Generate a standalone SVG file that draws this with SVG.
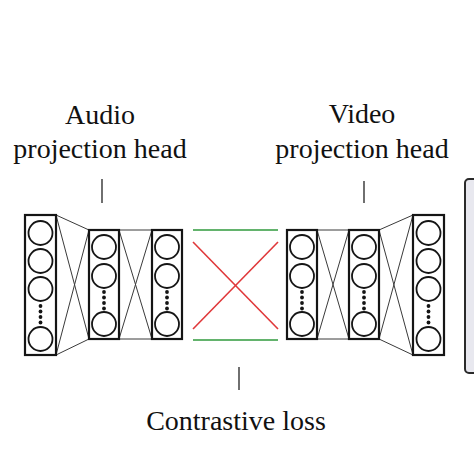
<svg xmlns="http://www.w3.org/2000/svg" width="474" height="474" viewBox="0 0 474 474">
<style>
.box{fill:none;stroke:#151515;stroke-width:2.2}
.n{fill:none;stroke:#151515;stroke-width:1.8}
.d{fill:#151515}
.c{stroke:#3a3a3a;stroke-width:1;fill:none}
.g{stroke:#2f9a3c;stroke-width:1.6}
.r{stroke:#e0383a;stroke-width:1.6}
.t{font-family:"Liberation Serif","Times New Roman",serif;font-size:28px;fill:#111;text-anchor:middle}
.tick{stroke:#222;stroke-width:1.3}
</style>
<rect width="474" height="474" fill="#fff"/>
<g id="labels">
<text class="t" x="100" y="124">Audio</text>
<text class="t" x="100" y="158">projection head</text>
<text class="t" x="362" y="123">Video</text>
<text class="t" x="362" y="158">projection head</text>
<text class="t" x="236" y="430">Contrastive loss</text>
<line class="tick" x1="102" y1="179" x2="102" y2="203"/>
<line class="tick" x1="364" y1="181" x2="364" y2="203"/>
<line class="tick" x1="239" y1="367" x2="239" y2="390"/>
</g>
<g id="connectors">
<line class="c" x1="56" y1="215" x2="89" y2="230"/>
<line class="c" x1="56" y1="355" x2="89" y2="339"/>
<line class="c" x1="56" y1="215" x2="89" y2="339"/>
<line class="c" x1="56" y1="355" x2="89" y2="230"/>
<line class="c" x1="119" y1="230" x2="152" y2="230"/>
<line class="c" x1="119" y1="339" x2="152" y2="339"/>
<line class="c" x1="119" y1="230" x2="152" y2="339"/>
<line class="c" x1="119" y1="339" x2="152" y2="230"/>
<line class="c" x1="317" y1="230" x2="349" y2="230"/>
<line class="c" x1="317" y1="339" x2="349" y2="339"/>
<line class="c" x1="317" y1="230" x2="349" y2="339"/>
<line class="c" x1="317" y1="339" x2="349" y2="230"/>
<line class="c" x1="379" y1="230" x2="413" y2="215"/>
<line class="c" x1="379" y1="339" x2="413" y2="355"/>
<line class="c" x1="379" y1="230" x2="413" y2="355"/>
<line class="c" x1="379" y1="339" x2="413" y2="215"/>
<line class="g" x1="193" y1="230" x2="278" y2="230"/>
<line class="g" x1="193" y1="340" x2="278" y2="340"/>
<line class="r" x1="193" y1="242" x2="278" y2="329"/>
<line class="r" x1="193" y1="329" x2="278" y2="242"/>
</g>
<g id="audio-layer1">
<rect class="box" x="25" y="215" width="31" height="140"/>
<circle class="n" cx="40.5" cy="233" r="12"/>
<circle class="n" cx="40.5" cy="261" r="12"/>
<circle class="n" cx="40.5" cy="289" r="12"/>
<circle class="n" cx="40.5" cy="339" r="12"/>
<circle class="d" cx="40.5" cy="306" r="1.9"/>
<circle class="d" cx="40.5" cy="311.5" r="1.9"/>
<circle class="d" cx="40.5" cy="317" r="1.9"/>
<circle class="d" cx="40.5" cy="322.5" r="1.9"/>
</g>
<g id="audio-layer2">
<rect class="box" x="89" y="230" width="30" height="109"/>
<circle class="n" cx="104" cy="247" r="12"/>
<circle class="n" cx="104" cy="276" r="12"/>
<circle class="n" cx="104" cy="324" r="12"/>
<circle class="d" cx="104" cy="292" r="1.9"/>
<circle class="d" cx="104" cy="297.5" r="1.9"/>
<circle class="d" cx="104" cy="303" r="1.9"/>
<circle class="d" cx="104" cy="308.5" r="1.9"/>
</g>
<g id="audio-layer3">
<rect class="box" x="152" y="230" width="30" height="109"/>
<circle class="n" cx="167" cy="247" r="12"/>
<circle class="n" cx="167" cy="276" r="12"/>
<circle class="n" cx="167" cy="324" r="12"/>
<circle class="d" cx="167" cy="292" r="1.9"/>
<circle class="d" cx="167" cy="297.5" r="1.9"/>
<circle class="d" cx="167" cy="303" r="1.9"/>
<circle class="d" cx="167" cy="308.5" r="1.9"/>
</g>
<g id="video-layer1">
<rect class="box" x="287" y="230" width="30" height="109"/>
<circle class="n" cx="302" cy="247" r="12"/>
<circle class="n" cx="302" cy="276" r="12"/>
<circle class="n" cx="302" cy="324" r="12"/>
<circle class="d" cx="302" cy="292" r="1.9"/>
<circle class="d" cx="302" cy="297.5" r="1.9"/>
<circle class="d" cx="302" cy="303" r="1.9"/>
<circle class="d" cx="302" cy="308.5" r="1.9"/>
</g>
<g id="video-layer2">
<rect class="box" x="349" y="230" width="30" height="109"/>
<circle class="n" cx="364" cy="247" r="12"/>
<circle class="n" cx="364" cy="276" r="12"/>
<circle class="n" cx="364" cy="324" r="12"/>
<circle class="d" cx="364" cy="292" r="1.9"/>
<circle class="d" cx="364" cy="297.5" r="1.9"/>
<circle class="d" cx="364" cy="303" r="1.9"/>
<circle class="d" cx="364" cy="308.5" r="1.9"/>
</g>
<g id="video-layer3">
<rect class="box" x="413" y="215" width="31" height="140"/>
<circle class="n" cx="428.5" cy="233" r="12"/>
<circle class="n" cx="428.5" cy="261" r="12"/>
<circle class="n" cx="428.5" cy="289" r="12"/>
<circle class="n" cx="428.5" cy="339" r="12"/>
<circle class="d" cx="428.5" cy="306" r="1.9"/>
<circle class="d" cx="428.5" cy="311.5" r="1.9"/>
<circle class="d" cx="428.5" cy="317" r="1.9"/>
<circle class="d" cx="428.5" cy="322.5" r="1.9"/>
</g>
<g id="right-panel">
<rect x="465" y="179" width="30" height="194" rx="4" fill="#e8e8ef" stroke="#2a2a2a" stroke-width="2"/>
</g>
</svg>
